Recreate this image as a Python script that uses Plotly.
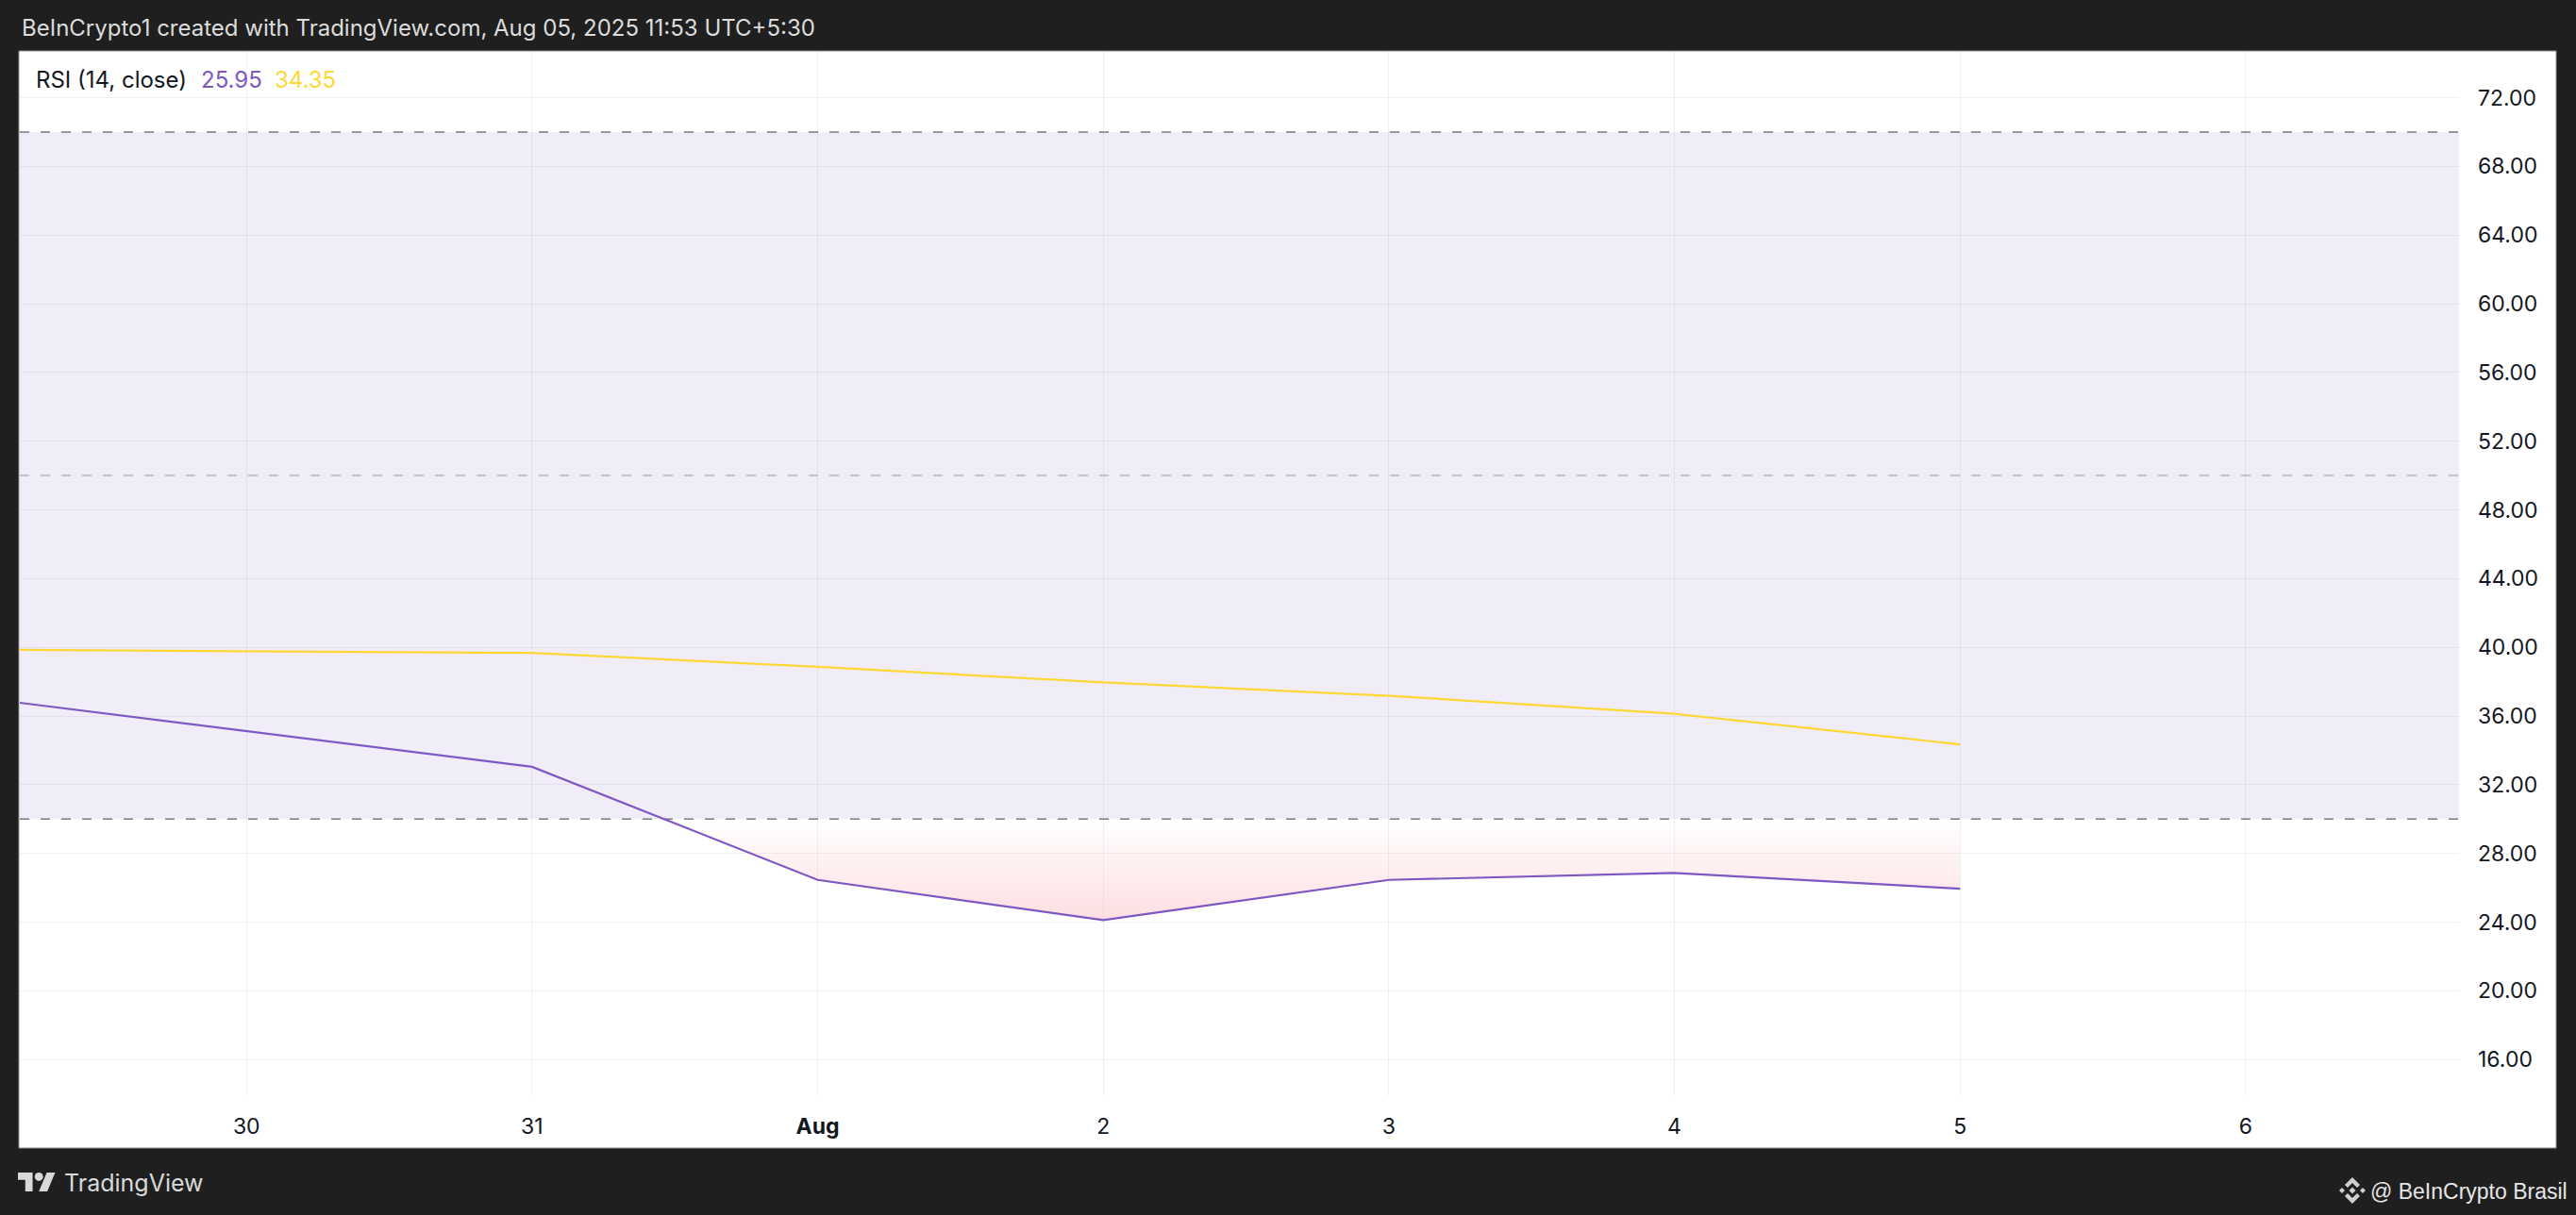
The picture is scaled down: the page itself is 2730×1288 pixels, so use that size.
import pandas as pd
import plotly.graph_objects as go

# ---------------- data ----------------
dates = ["2025-07-29", "2025-07-30", "2025-07-31", "2025-08-01",
         "2025-08-02", "2025-08-03", "2025-08-04", "2025-08-05"]
rsi = [37.20, 35.12, 33.04, 26.46, 24.12, 26.46, 26.86, 25.95]
rsi_ma = [39.87, 39.79, 39.67, 38.86, 37.96, 37.18, 36.13, 34.35]

tick_dates = ["2025-07-30", "2025-07-31", "2025-08-01", "2025-08-02",
              "2025-08-03", "2025-08-04", "2025-08-05", "2025-08-06"]
tick_text = ["30", "31", "<b>Aug</b>", "2", "3", "4", "5", "6"]
y_ticks = [16, 20, 24, 28, 32, 36, 40, 44, 48, 52, 56, 60, 64, 68, 72]

overbought, middle, oversold = 70, 50, 30
legend_rsi = "25.95"
legend_ma = "34.35"

# ---------------- styles ----------------
W, H = 2730, 1288
PL, PR, PT, PB = 21, 2606, 54, 1162
FONT = "Inter, Roboto, 'Noto Sans', sans-serif"
PURPLE = "#7E57C2"
YELLOW = "#FDD835"
TXT = "#131722"
GRID = "rgba(42,46,57,0.065)"


def fx(x):
    return (x - PL) / (PR - PL)


def fy(y):
    return (PB - y) / (PB - PT)


# ---------------- oversold gradient polygon (computed from data) ----------------
t = pd.to_datetime(pd.Series(dates))
tn = t.astype("int64").to_numpy()
poly_x, poly_y = [], []
for i in range(len(rsi) - 1):
    a, b = rsi[i], rsi[i + 1]
    if a >= oversold > b:
        f = (a - oversold) / (a - b)
        tc = tn[i] + f * (tn[i + 1] - tn[i])
        poly_x.append(pd.Timestamp(int(tc)))
        poly_y.append(oversold)
    if b < oversold:
        poly_x.append(t[i + 1])
        poly_y.append(b)
poly_x.append(poly_x[-1])
poly_y.append(oversold)

fig = go.Figure()

fig.add_trace(go.Scatter(
    x=poly_x, y=poly_y, mode="lines", fill="toself",
    line=dict(width=0, color="rgba(0,0,0,0)"),
    fillgradient=dict(type="vertical", start=0, stop=oversold,
                      colorscale=[[0, "rgba(242,54,69,0.82)"], [1, "rgba(242,54,69,0)"]]),
    hoverinfo="skip", showlegend=False))

fig.add_trace(go.Scatter(x=dates, y=rsi, mode="lines",
                         line=dict(color=PURPLE, width=2.2), hoverinfo="skip",
                         showlegend=False))
fig.add_trace(go.Scatter(x=dates, y=rsi_ma, mode="lines",
                         line=dict(color=YELLOW, width=2.2), hoverinfo="skip",
                         showlegend=False))

shapes = []
# white panel
shapes.append(dict(type="rect", xref="paper", yref="paper",
                   x0=fx(20), x1=fx(2709), y0=fy(1217), y1=fy(54),
                   fillcolor="white", line=dict(color="#8d8d8d", width=1), layer="below"))
# RSI band
shapes.append(dict(type="rect", xref="paper", yref="y", x0=0, x1=1,
                   y0=oversold, y1=overbought, fillcolor="rgba(126,87,194,0.11)",
                   line=dict(width=0), layer="below"))
for lvl, col in [(overbought, "#787B86"), (middle, "rgba(120,123,134,0.5)"), (oversold, "#787B86")]:
    shapes.append(dict(type="line", xref="paper", yref="y", x0=0, x1=1, y0=lvl, y1=lvl,
                       line=dict(color=col, width=1.5, dash="10px,12px"), layer="below"))

# TradingView logo (bottom left)
s = 40 / 36.0
ox, oy = 19, 1243


def lp(pts):
    return "M " + " L ".join(f"{fx(ox + s * x):.6f},{fy(oy + s * (y - 4)):.6f}" for x, y in pts) + " Z"


LOGO = "#d9d9d9"
shapes.append(dict(type="path", xref="paper", yref="paper",
                   path=lp([(0, 4), (14, 4), (14, 22), (7, 22), (7, 11), (0, 11)]),
                   fillcolor=LOGO, line=dict(width=0), layer="above"))
shapes.append(dict(type="path", xref="paper", yref="paper",
                   path=lp([(27.5, 4), (35.5, 4), (28, 22), (20, 22)]),
                   fillcolor=LOGO, line=dict(width=0), layer="above"))
shapes.append(dict(type="circle", xref="paper", yref="paper",
                   x0=fx(ox + s * 16), x1=fx(ox + s * 24), y0=fy(oy + s * 8), y1=fy(oy + s * 0),
                   fillcolor=LOGO, line=dict(width=0), layer="above"))


# Binance-like logo (bottom right)
def bp(pts):
    return "M " + " L ".join(f"{fx(x):.6f},{fy(y):.6f}" for x, y in pts) + " Z"


BL = "#d0d0d0"
cx, cy = 2493, 1262
for pts in [
    [(cx - 8, cy - 6), (cx, cy - 14), (cx + 8, cy - 6), (cx + 5, cy - 3), (cx, cy - 8), (cx - 5, cy - 3)],
    [(cx - 8, cy + 6), (cx, cy + 14), (cx + 8, cy + 6), (cx + 5, cy + 3), (cx, cy + 8), (cx - 5, cy + 3)],
    [(cx - 3.5, cy), (cx, cy - 3.5), (cx + 3.5, cy), (cx, cy + 3.5)],
    [(cx - 14, cy), (cx - 11, cy - 3), (cx - 8, cy), (cx - 11, cy + 3)],
    [(cx + 8, cy), (cx + 11, cy - 3), (cx + 14, cy), (cx + 11, cy + 3)],
]:
    shapes.append(dict(type="path", xref="paper", yref="paper", path=bp(pts),
                       fillcolor=BL, line=dict(width=0), layer="above"))

annotations = [
    dict(text="BeInCrypto1 created with TradingView.com, Aug 05, 2025 11:53 UTC+5:30",
         x=fx(21), y=fy(30), xref="paper", yref="paper", xanchor="left", yanchor="middle",
         showarrow=False, font=dict(family=FONT, size=24, color="#dcdcdc")),
    dict(text="RSI (14, close)", x=fx(36), y=fy(85), xref="paper", yref="paper",
         xanchor="left", yanchor="middle", showarrow=False,
         font=dict(family=FONT, size=24, color=TXT)),
    dict(text=legend_rsi, x=fx(211), y=fy(85), xref="paper", yref="paper",
         xanchor="left", yanchor="middle", showarrow=False,
         font=dict(family=FONT, size=24, color=PURPLE)),
    dict(text=legend_ma, x=fx(289), y=fy(85), xref="paper", yref="paper",
         xanchor="left", yanchor="middle", showarrow=False,
         font=dict(family=FONT, size=24, color=YELLOW)),
    dict(text="TradingView", x=fx(66), y=fy(1254), xref="paper", yref="paper",
         xanchor="left", yanchor="middle", showarrow=False,
         font=dict(family=FONT, size=25, color="#d9d9d9")),
    dict(text="@ BeInCrypto Brasil", x=fx(2510), y=fy(1263), xref="paper", yref="paper",
         xanchor="left", yanchor="middle", showarrow=False,
         font=dict(family="'Liberation Sans', Arial, sans-serif", size=23, color="#e6e6e6")),
]

fig.update_layout(
    width=W, height=H,
    margin=dict(l=PL, r=W - PR, t=PT, b=H - PB, autoexpand=False),
    paper_bgcolor="#1f1f1f", plot_bgcolor="white",
    shapes=shapes, annotations=annotations, showlegend=False,
    xaxis=dict(type="date", range=["2025-07-29 04:57", "2025-08-06 17:56"],
               tickmode="array", tickvals=tick_dates, ticktext=tick_text,
               showgrid=True, gridcolor=GRID, gridwidth=1, zeroline=False,
               showline=False, ticks="", ticklabelstandoff=16,
               tickfont=dict(family=FONT, size=23, color=TXT), fixedrange=True),
    yaxis=dict(side="right", range=[13.87, 74.72], tickmode="array", tickvals=y_ticks,
               tickformat=".2f", showgrid=True, gridcolor=GRID, gridwidth=1,
               zeroline=False, showline=False, ticks="", ticklabelstandoff=19,
               tickfont=dict(family=FONT, size=23, color=TXT), fixedrange=True),
)

fig.write_html("out.html", config={"displayModeBar": False},
               post_script="document.body.style.margin='0px';document.body.style.background='#1f1f1f';document.body.style.overflow='hidden';")
